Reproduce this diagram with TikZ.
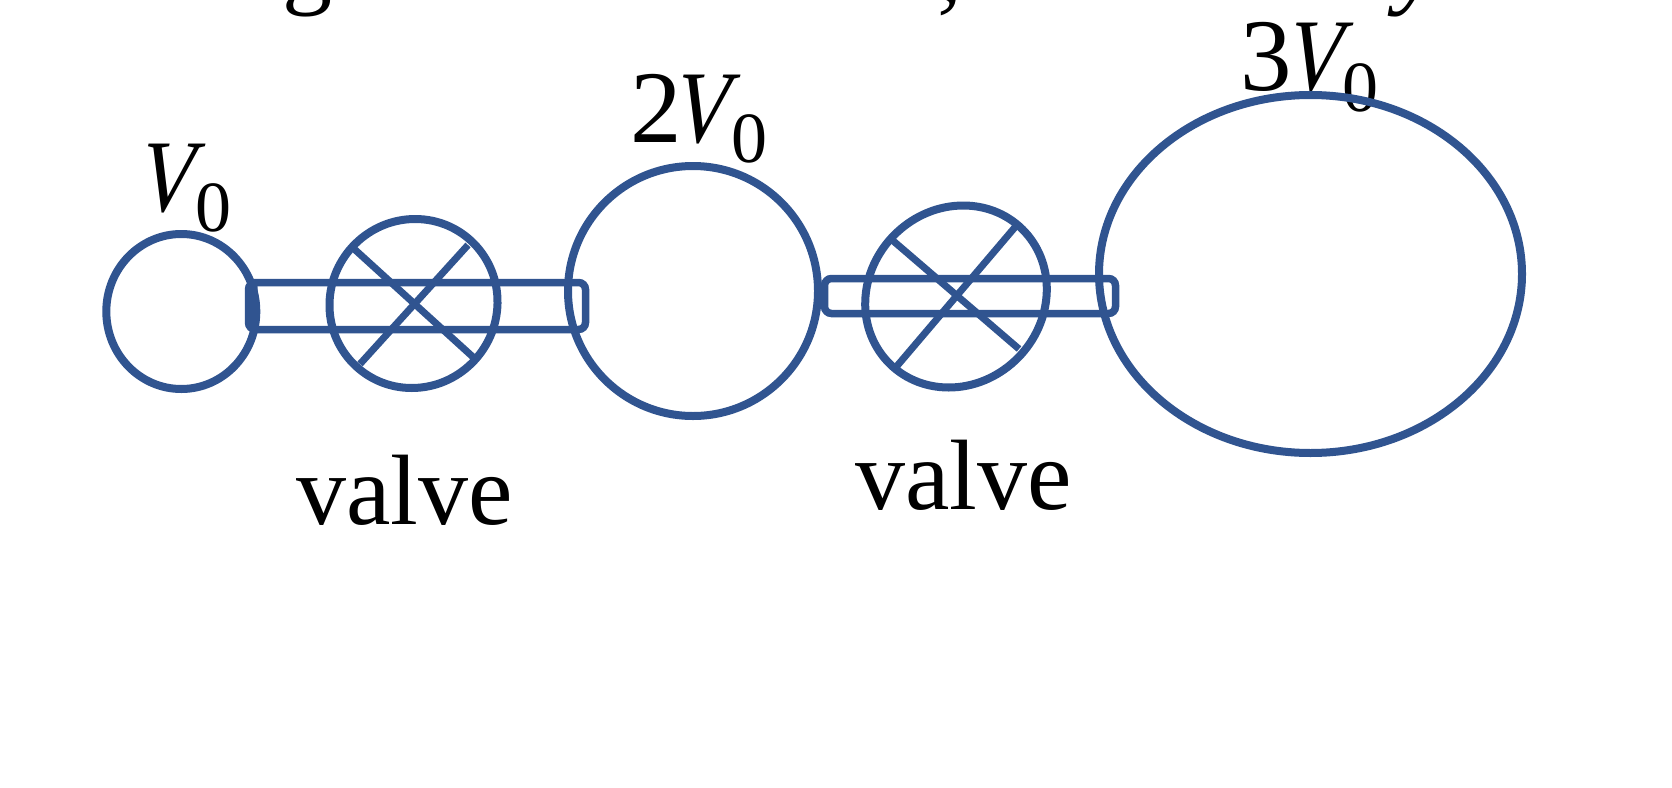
\documentclass[tikz,border=0pt]{standalone}
\usepackage{fontspec}
\setmainfont{Liberation Serif}
\usetikzlibrary{shapes.geometric}
\definecolor{vblue}{HTML}{305490}
\tikzset{
 vessel/.style={draw=vblue,line width=8pt,ellipse,inner sep=0pt,outer sep=0pt,fill=none},
 tube/.style={draw=vblue,line width=7.5pt,rounded corners=7pt,rectangle,inner sep=0pt,outer sep=0pt},
 bar/.style={draw=vblue,line width=7pt},
 lab/.style={inner sep=0pt,outer sep=0pt,anchor=base west,text=black},
 slantv/.style={lab,xscale=0.85,xslant=0.08,transform shape}
}
\newcommand{\bigf}{\fontsize{103}{103}\selectfont}
\newcommand{\subf}{\fontsize{72}{72}\selectfont}
\newcommand{\wordf}{\fontsize{100}{100}\selectfont}
\begin{document}
\begin{tikzpicture}[x=1pt,y=-1pt]
\useasboundingbox (0,0) rectangle (1672,787);
\fill[white] (0,0) rectangle (1672,787);
% fragments of a text line cut off by the top edge
\node[lab] (fa) at (282,-5) {\wordf g};
\node[lab] (fb) at (937,1) {\wordf ,};
\node[lab] (fc) at (1396,-5) {\wordf\itshape y};
% labels (the vessels are drawn over them)
\node[slantv] (l1) at (139,211) {\bigf\itshape V};
\node[lab] (l1s) at (195,231) {\subf 0};
\node[lab] (l2d) at (630,142) {\bigf 2};
\node[slantv] (l2) at (674,142) {\bigf\itshape V};
\node[lab] (l2s) at (731,162) {\subf 0};
\node[lab] (l3d) at (1240,90) {\bigf 3};
\node[slantv] (l3) at (1287,90) {\bigf\itshape V};
\node[lab] (l3s) at (1342,111) {\subf 0};
\node[lab] (w1) at (296,524) {\wordf valve};
\node[lab] (w2) at (855,509) {\wordf valve};
% vessels
\node[vessel,minimum width=150pt,minimum height=155pt] (v1) at (181.3,311.5) {};
\node[vessel,minimum width=168pt,minimum height=169pt,xslant=0.02,transform shape] (k1) at (413.5,303.5) {};
\node[vessel,minimum width=250pt,minimum height=250pt] (v2) at (693,291) {};
\node[vessel,minimum width=181pt,minimum height=182pt,xslant=0.08,transform shape] (k2) at (956,296.5) {};
\node[vessel,minimum width=423pt,minimum height=358pt] (v3) at (1310.5,274) {};
% tubes
\node[tube,minimum width=337pt,minimum height=47pt] (t1) at (417,306) {};
\fill[vblue,rounded corners=4pt] (t1.north west) rectangle ([xshift=9pt]t1.south west);
\node[tube,minimum width=291pt,minimum height=35pt] (t2) at (970,296) {};
% crossing bars inside the valves
\coordinate (a1) at (352,247);
\coordinate (a2) at (473,357);
\coordinate (b1) at (468,245);
\coordinate (b2) at (360,364);
\draw[bar] (a1) -- (a2);
\draw[bar] (b1) -- (b2);
\coordinate (c1) at (891,239);
\coordinate (c2) at (1019,349);
\coordinate (d1) at (1016,226);
\coordinate (d2) at (897,366);
\draw[bar] (c1) -- (c2);
\draw[bar] (d1) -- (d2);
\end{tikzpicture}
\end{document}
